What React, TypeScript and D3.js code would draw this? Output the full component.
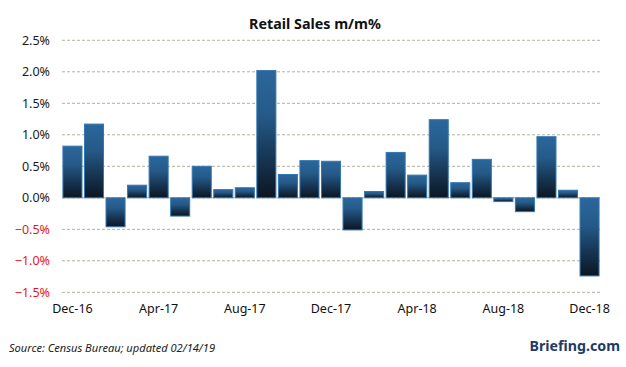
import React from 'react'
import * as d3 from 'd3'

const months = [
  'Dec-16', 'Jan-17', 'Feb-17', 'Mar-17', 'Apr-17', 'May-17', 'Jun-17', 'Jul-17', 'Aug-17',
  'Sep-17', 'Oct-17', 'Nov-17', 'Dec-17', 'Jan-18', 'Feb-18', 'Mar-18', 'Apr-18', 'May-18',
  'Jun-18', 'Jul-18', 'Aug-18', 'Sep-18', 'Oct-18', 'Nov-18', 'Dec-18',
]
const salesChange = [
  0.82, 1.17, -0.46, 0.2, 0.66, -0.29, 0.5, 0.13, 0.16, 2.02, 0.37, 0.59, 0.58,
  -0.51, 0.1, 0.72, 0.36, 1.24, 0.24, 0.61, -0.06, -0.22, 0.97, 0.12, -1.24,
]
const yTicks = [2.5, 2.0, 1.5, 1.0, 0.5, 0.0, -0.5, -1.0, -1.5]
const xTickLabels = ['Dec-16', 'Apr-17', 'Aug-17', 'Dec-17', 'Apr-18', 'Aug-18', 'Dec-18']

const W = 626
const H = 367
const left = 62
const right = 600
const top = 40.3
const bottom = 292.3
const font = '"Noto Sans", "DejaVu Sans", sans-serif'

export default function App() {
  const x = d3.scaleBand<string>().domain(months).range([left, right]).paddingInner(0.07).paddingOuter(0.02)
  const y = d3.scaleLinear().domain([-1.5, 2.5]).range([bottom, top])
  const fmt = d3.format('.1f')

  return (
    <svg width={W} height={H} style={{ position: 'absolute', left: 0, top: 0 }}>
      <defs>
        <linearGradient id="barFill" x1="0" y1="0" x2="0" y2="1">
          <stop offset="0" stopColor="#2b679c" />
          <stop offset="0.35" stopColor="#255a88" />
          <stop offset="0.7" stopColor="#163451" />
          <stop offset="1" stopColor="#0b1622" />
        </linearGradient>
      </defs>
      <rect width={W} height={H} fill="#fff" />
      <text x={315} y={29} textAnchor="middle" fontFamily={font} fontWeight="bold" fontSize={14.3} fill="#111">
        Retail Sales m/m%
      </text>
      {yTicks.map((t) => (
        <g key={t}>
          <line x1={left} x2={right} y1={y(t)} y2={y(t)} stroke="#b5af9f" strokeDasharray="3,2" strokeWidth={1} />
          <text
            x={50}
            y={y(t) + 4.5}
            textAnchor="end"
            fontFamily={font}
            fontSize={12.5}
            fill={t < 0 ? '#e8161b' : '#1a1a1a'}
          >
            {fmt(t)}%
          </text>
        </g>
      ))}
      {months.map((m, i) => {
        const v = salesChange[i]
        const y1 = y(Math.max(0, v))
        const y2 = y(Math.min(0, v))
        return (
          <rect
            key={m}
            x={x(m)! + 0.5}
            y={y1}
            width={x.bandwidth() - 1}
            height={Math.max(1, y2 - y1)}
            fill="url(#barFill)"
            stroke="#3377b3"
            strokeWidth={1}
          />
        )
      })}
      {xTickLabels.map((m) => (
        <text
          key={m}
          x={x(m)! + x.bandwidth() / 2}
          y={313}
          textAnchor="middle"
          fontFamily={font}
          fontSize={12.5}
          fill="#111"
        >
          {m}
        </text>
      ))}
      <text x={9} y={352} fontFamily={font} fontStyle="italic" fontSize={11.1} fill="#222">
        Source: Census Bureau; updated 02/14/19
      </text>
      <text x={620} y={351} textAnchor="end" fontFamily={font} fontWeight="bold" fontSize={14.2} fill="#1f3a64">
        Briefing.com
      </text>
    </svg>
  )
}
